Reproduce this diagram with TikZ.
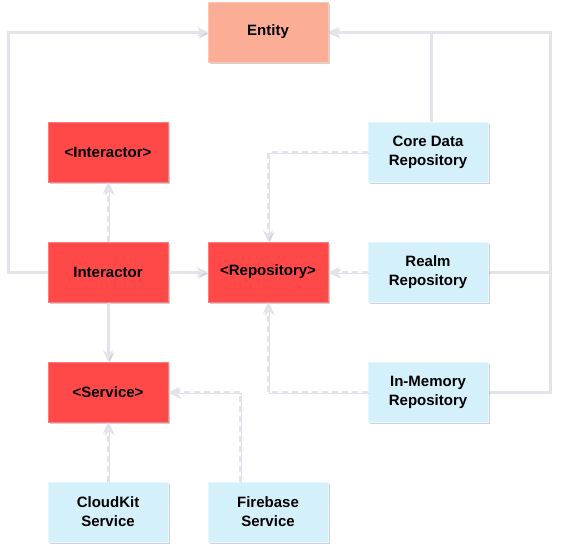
\documentclass[tikz,border=0pt]{standalone}
\usepackage{fontspec}
\setmainfont{Liberation Sans}
\usetikzlibrary{arrows.meta,shadows}
\definecolor{ent}{HTML}{FBAE95}
\definecolor{entb}{HTML}{FDC6B2}
\definecolor{proto}{HTML}{FF4848}
\definecolor{protob}{HTML}{FF7A7A}
\definecolor{impl}{HTML}{D4F1FB}
\definecolor{implb}{HTML}{E6F7FD}
\definecolor{wire}{HTML}{E3E3EA}
\definecolor{wires}{HTML}{B4B4C8}
\tikzset{
  box/.style={minimum width=120pt, minimum height=60pt, inner sep=0pt, align=center,
    font=\fontsize{15}{19}\selectfont\bfseries, line width=1pt,
    drop shadow={shadow xshift=2pt, shadow yshift=-2pt, opacity=0.3, fill=black!60}},
  entbox/.style={box, fill=ent, draw=entb},
  protobox/.style={box, fill=proto, draw=protob},
  implbox/.style={box, fill=impl, draw=implb},
  plain/.style={draw=wire, line width=3pt,
    preaction={draw=wires, draw opacity=0.45, transform canvas={shift={(1.5pt,-1.5pt)}}}},
  wirel/.style={plain, -{Stealth[length=11pt,width=10pt,inset=3.5pt,fill=wire]}},
  dashl/.style={wirel, dash pattern=on 6pt off 4pt},
}
\begin{document}
\begin{tikzpicture}[x=1pt,y=-1pt]
\useasboundingbox (0,0) rectangle (569,554);
\coordinate (cl) at (8,32);
\coordinate (cr) at (550,32);
\coordinate (ctop) at (431,32);
\coordinate (fbx) at (240,0);
% connectors first (behind boxes)
\path[wirel] (108,272) -| (cl) -- (208,32);
\path[wirel] (431,122) -- (ctop) -- (328,32);
\path[plain] (488,272) -- (cr |- 488,272);
\path[plain] (488,392) -| (cr) -- (ctop);
\node[entbox] (ent) at (268,32) {Entity};
\node[protobox] (pint) at (108,152) {<Interactor>};
\node[protobox] (int) at (108,272) {Interactor};
\node[protobox] (prep) at (268,272) {<Repository>};
\node[protobox] (psrv) at (108,392) {<Service>};
\node[implbox] (core) at (428,152) {Core Data\\Repository};
\node[implbox] (realm) at (428,272) {Realm\\Repository};
\node[implbox] (mem) at (428,392) {In-Memory\\Repository};
\node[implbox] (ck) at (108,512) {CloudKit\\Service};
\node[implbox] (fb) at (268,512) {Firebase\\Service};
% solid connectors
\path[wirel] (int.east) -- (prep.west);
\path[wirel] (int.south) -- (psrv.north);
% dashed connectors
\path[dashl] (int.north) -- (pint.south);
\path[dashl] (core.west) -| (prep.north);
\path[dashl] (realm.west) -- (prep.east);
\path[dashl] (mem.west) -| (prep.south);
\path[dashl] (fb.north -| fbx) |- (psrv.east);
\path[dashl] (ck.north) -- (psrv.south);
\end{tikzpicture}
\end{document}
